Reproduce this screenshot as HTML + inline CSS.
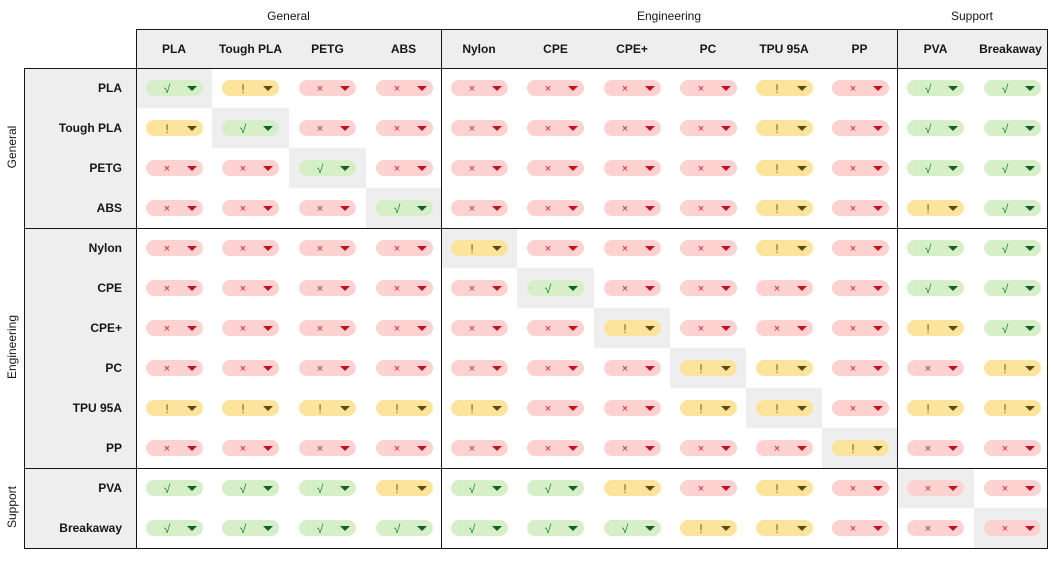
<!DOCTYPE html>
<html><head><meta charset="utf-8"><style>
body{margin:0;width:1052px;height:551px;background:#fff;font-family:"Liberation Sans",sans-serif;position:relative;overflow:hidden}
.a{position:absolute}
.hd{font-weight:bold;font-size:12px;color:#161616;text-align:center}
.rl{font-weight:bold;font-size:12px;color:#161616;text-align:right;width:96px;left:26px}
.grp{font-size:12px;color:#161616;text-align:center}
.pill{position:absolute;width:57px;height:16px;border-radius:8px}
.pill .s{position:absolute;left:13px;width:16px;text-align:center;top:1px;line-height:16px;font-size:12px}
.pill .t{position:absolute;right:6px;top:6px;width:0;height:0;border-left:5px solid transparent;border-right:5px solid transparent;border-top:5px solid}
.g{background:#d6efc9}.g .s{color:#198038}.g .t{border-top-color:#0e6027}
.w{background:#fde49c}.w .s{color:#6a5410}.w .t{border-top-color:#5c4a14}
.x{background:#ffd2d2}.x .s{color:#da1e28;font-size:11px}.x .t{border-top-color:#c1121f}
.vl{font-size:12px;color:#161616;transform:rotate(-90deg);transform-origin:center;white-space:nowrap;text-align:center;width:160px}
</style></head><body>
<div class="a" style="left:136px;top:29px;width:911px;height:39px;background:#eee"></div>
<div class="a" style="left:24px;top:68px;width:112px;height:480px;background:#eee"></div>
<div id="c"></div>
<script>
const cols=["PLA","Tough PLA","PETG","ABS","Nylon","CPE","CPE+","PC","TPU 95A","PP","PVA","Breakaway"];
const L=[136,212,289,366,441,517,594,670,746,822,897,974,1047];
const M=["gwxx xxxxwx gg","wgxx xxxxwx gg","xxgx xxxxwx gg","xxxg xxxxwx wg","xxxx wxxxwx gg","xxxx xgxxxx gg","xxxx xxwxxx wg","xxxx xxxwwx xw","wwww wxxwwx ww","xxxx xxxxxw xx","gggw ggwxwx xx","gggg gggwwx xx"].map(s=>s.replace(/ /g,""));
const sym={g:"√",w:"!",x:"×"};
let h="";
cols.forEach((c,i)=>{
 h+=`<div class="a hd" style="left:${L[i]}px;width:${L[i+1]-L[i]}px;top:42px">${c}</div>`;
 const y=68+40*i;
 h+=`<div class="a rl" style="top:${y+13}px">${c}</div>`;
 h+=`<div class="a" style="left:${L[i]}px;top:${y}px;width:${L[i+1]-L[i]}px;height:40px;background:#eee"></div>`;
 for(let j=0;j<12;j++){const t=M[i][j];
  h+=`<div class="pill ${t}" style="left:${L[j]+10}px;top:${y+12}px"><span class="s">${sym[t]}</span><span class="t"></span></div>`;}
});
[["General",136,441],["Engineering",441,897],["Support",897,1047]].forEach(g=>{
 h+=`<div class="a grp" style="left:${g[1]}px;width:${g[2]-g[1]}px;top:9px">${g[0]}</div>`;});
[["General",68,228],["Engineering",228,468],["Support",468,548]].forEach(g=>{
 const cy=(g[1]+g[2])/2;
 h+=`<div class="a vl" style="left:${12-80}px;top:${cy-8}px">${g[0]}</div>`;});
const B="#161616";
[136,441,897,1047].forEach(x=>h+=`<div class="a" style="left:${x}px;top:29px;width:1px;height:520px;background:${B}"></div>`);
h+=`<div class="a" style="left:24px;top:68px;width:1px;height:481px;background:${B}"></div>`;
h+=`<div class="a" style="left:136px;top:29px;width:912px;height:1px;background:${B}"></div>`;
[68,228,468,548].forEach(y=>h+=`<div class="a" style="left:24px;top:${y}px;width:1024px;height:1px;background:${B}"></div>`);
document.getElementById("c").innerHTML=h;
</script>
</body></html>
